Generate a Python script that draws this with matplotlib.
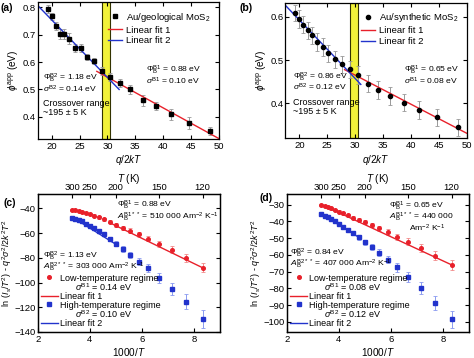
import matplotlib
matplotlib.use('Agg')
import matplotlib.pyplot as plt
from matplotlib.lines import Line2D

plt.rcParams['font.family'] = ['Liberation Sans', 'DejaVu Sans']
plt.rcParams['mathtext.fontset'] = 'custom'
plt.rcParams['mathtext.rm'] = 'Liberation Sans'
plt.rcParams['mathtext.it'] = 'Liberation Sans:italic'
plt.rcParams['mathtext.bf'] = 'Liberation Sans:bold'
plt.rcParams['font.size'] = 6.8
plt.rcParams['xtick.direction'] = 'in'
plt.rcParams['ytick.direction'] = 'in'
plt.rcParams['xtick.major.size'] = 3
plt.rcParams['ytick.major.size'] = 3
plt.rcParams['xtick.major.pad'] = 2
plt.rcParams['ytick.major.pad'] = 1.5
plt.rcParams['axes.linewidth'] = 0.9

FS = 6.8     # ticks, legends
FA = 6.1     # annotations

# --- data ---
# (a), (b): q/2kT
q2kT = [19.3, 20.0, 20.7, 21.5, 22.3, 23.2, 24.2, 25.2, 26.4, 27.6,
        29.0, 30.5, 32.2, 34.1, 36.3, 38.7, 41.4, 44.6, 48.4]
phi_geo = [0.792, 0.766, 0.730, 0.701, 0.701, 0.685, 0.651, 0.651, 0.618, 0.604,
           0.567, 0.545, 0.524, 0.500, 0.461, 0.439, 0.410, 0.378, 0.349]
err_geo = [0.015, 0.012, 0.015, 0.018, 0.018, 0.020, 0.015, 0.015, 0.012, 0.012,
           0.015, 0.015, 0.015, 0.018, 0.020, 0.015, 0.020, 0.022, 0.015]
phi_syn = [0.608, 0.595, 0.582, 0.569, 0.557, 0.542, 0.530, 0.516, 0.502, 0.490,
           0.479, 0.466, 0.446, 0.431, 0.417, 0.402, 0.385, 0.368, 0.345]
err_syn = [0.018, 0.020, 0.020, 0.020, 0.020, 0.020, 0.020, 0.020, 0.020, 0.020,
           0.020, 0.020, 0.020, 0.020, 0.020, 0.020, 0.020, 0.020, 0.020]

# fit line end points
geo_fit1_x, geo_fit1_y = [28.1, 50.0], [0.566, 0.321]
geo_fit2_x, geo_fit2_y = [17.5, 32.1], [0.806, 0.500]
syn_fit1_x, syn_fit1_y = [28.1, 50.0], [0.478, 0.331]
syn_fit2_x, syn_fit2_y = [17.6, 31.0], [0.625, 0.444]
crossover = [29.0, 30.5]

# (c), (d): 1000/T
inv_T = [3.33, 3.45, 3.57, 3.70, 3.85, 4.00, 4.17, 4.35, 4.55, 4.76,
         5.00, 5.26, 5.56, 5.88, 6.25, 6.67, 7.14, 7.69, 8.33]
c_low = [-41.0, -41.4, -41.9, -42.6, -43.4, -44.6, -45.8, -47.2, -48.8, -50.6,
         -53.5, -55.5, -58.0, -61.0, -64.5, -68.5, -73.5, -80.0, -88.0]
c_low_err = [0.8, 0.8, 0.8, 0.9, 0.9, 1.0, 1.0, 1.1, 1.2, 1.3,
             1.5, 1.6, 1.8, 2.0, 2.2, 2.5, 2.8, 3.2, 3.6]
c_high = [-47.5, -48.3, -49.3, -50.5, -52.2, -54.0, -56.0, -58.3, -61.0, -64.5,
          -68.5, -73.0, -77.5, -83.0, -88.0, -96.0, -105.0, -115.5, -129.5]
c_high_err = [0.8, 0.8, 0.9, 0.9, 1.0, 1.1, 1.2, 1.3, 1.5, 1.7,
              2.0, 2.3, 2.6, 3.0, 3.4, 4.0, 4.8, 5.8, 7.0]
d_low = [-30.2, -30.8, -31.5, -32.3, -33.3, -34.3, -35.3, -36.5, -37.8, -39.0,
         -40.5, -42.3, -44.2, -46.5, -49.2, -52.2, -56.0, -60.5, -65.8]
d_low_err = [0.6, 0.6, 0.6, 0.7, 0.7, 0.8, 0.8, 0.9, 1.0, 1.1,
             1.2, 1.3, 1.5, 1.7, 1.9, 2.1, 2.4, 2.7, 3.0]
d_high = [-35.8, -36.6, -37.5, -38.6, -40.0, -41.5, -43.2, -45.0, -47.2, -49.6,
          -52.5, -55.5, -58.8, -62.8, -67.5, -73.5, -80.0, -88.5, -98.5]
d_high_err = [0.6, 0.6, 0.7, 0.7, 0.8, 0.9, 1.0, 1.1, 1.2, 1.4,
              1.6, 1.8, 2.0, 2.3, 2.6, 3.0, 3.5, 4.2, 5.0]

c_fit1_x, c_fit1_y = [4.76, 8.33], [-51.5, -88.0]
c_fit2_x, c_fit2_y = [3.33, 5.00], [-47.0, -69.0]
d_fit1_x, d_fit1_y = [3.33, 8.33], [-30.0, -66.0]
d_fit2_x, d_fit2_y = [3.33, 4.76], [-35.5, -49.5]

T_ticks = [300, 250, 200, 150, 120]

RED = '#e8202a'
BLUE = '#2233cc'

fig = plt.figure(figsize=(4.74, 3.58), dpi=100)
ax_a = fig.add_axes([0.0795, 0.612, 0.3825, 0.382])
ax_b = fig.add_axes([0.602, 0.614, 0.3833, 0.378])
ax_c = fig.add_axes([0.0795, 0.073, 0.3846, 0.386])
ax_d = fig.add_axes([0.605, 0.073, 0.3846, 0.386])


def phi_panel(ax, y, err, marker, label, fit1, fit2, ylim, yticks):
    ax.axvspan(crossover[0], crossover[1], facecolor='#f2f23a',
               edgecolor='#333300', linewidth=0.8, zorder=0)
    ax.errorbar(q2kT, y, yerr=err, fmt='none', ecolor='#999999',
                elinewidth=0.7, capsize=1.5, capthick=0.6, zorder=1)
    ax.plot(q2kT, y, marker, color='black', markersize=3.0, linestyle='none',
            label=label, zorder=3)
    ax.plot(fit1[0], fit1[1], color=RED, lw=1.0, label='Linear fit 1', zorder=2)
    ax.plot(fit2[0], fit2[1], color=BLUE, lw=1.0, label='Linear fit 2', zorder=2)
    ax.set_xlim(17.5, 50)
    ax.set_ylim(*ylim)
    ax.set_xticks([20, 25, 30, 35, 40, 45, 50])
    ax.set_yticks(yticks)
    ax.set_yticklabels(['%.1f' % v for v in yticks])
    ax.set_xlabel('$q/2kT$', fontsize=7.2, labelpad=2)
    ax.set_ylabel(r'$\phi^{\rm app}$ (eV)', fontsize=7.2, labelpad=1)
    ax.legend(loc='upper right', frameon=False, fontsize=FS, handlelength=1.5,
              handletextpad=0.4, labelspacing=0.2, borderaxespad=0.5)
    ax.tick_params(top=True, right=True, labelsize=FS)


phi_panel(ax_a, phi_geo, err_geo, 's', 'Au/geological MoS$_2$',
          (geo_fit1_x, geo_fit1_y), (geo_fit2_x, geo_fit2_y),
          (0.32, 0.818), [0.4, 0.5, 0.6, 0.7, 0.8])
phi_panel(ax_b, phi_syn, err_syn, 'o', 'Au/synthetic MoS$_2$',
          (syn_fit1_x, syn_fit1_y), (syn_fit2_x, syn_fit2_y),
          (0.32, 0.632), [0.4, 0.5, 0.6])


def lines(ax, x, ys, texts, size=FA):
    for yy, t in zip(ys, texts):
        ax.text(x, yy, t, transform=ax.transAxes, fontsize=size, va='center')


lines(ax_a, 0.032, [0.442, 0.362], [r'$\Phi_{\rm B}^{\rm B2}$ = 1.18 eV', r'$\sigma^{\rm B2}$ = 0.14 eV'])
lines(ax_a, 0.032, [0.262, 0.192], ['Crossover range', '~195 \u00b1 5 K'], size=6.5)
lines(ax_a, 0.60, [0.502, 0.42],
      [r'$\Phi_{\rm B}^{\rm B1}$ = 0.88 eV', r'$\sigma^{\rm B1}$ = 0.10 eV'])
lines(ax_b, 0.042, [0.449, 0.374], [r'$\Phi_{\rm B}^{\rm B2}$ = 0.86 eV', r'$\sigma^{\rm B2}$ = 0.12 eV'])
lines(ax_b, 0.042, [0.264, 0.194], ['Crossover range', '~195 \u00b1 5 K'], size=6.5)
lines(ax_b, 0.652, [0.503, 0.423],
      [r'$\Phi_{\rm B}^{\rm B1}$ = 0.65 eV', r'$\sigma^{\rm B1}$ = 0.08 eV'])


def ln_panel(ax, low, low_err, high, high_err, fit1, fit2, ylim, yticks,
             sig1, sig2):
    ax.errorbar(inv_T, low, yerr=low_err, fmt='none', ecolor='#f28a8a',
                elinewidth=0.7, capsize=1.5, capthick=0.6, zorder=1)
    ax.errorbar(inv_T, high, yerr=high_err, fmt='none', ecolor='#8a9af0',
                elinewidth=0.7, capsize=1.5, capthick=0.6, zorder=1)
    h1, = ax.plot(inv_T, low, 'o', color=RED, markersize=2.6, linestyle='none', zorder=3)
    h2, = ax.plot(fit1[0], fit1[1], color=RED, lw=1.0, zorder=2)
    h3, = ax.plot(inv_T, high, 's', color=BLUE, markersize=2.4, linestyle='none', zorder=3)
    h4, = ax.plot(fit2[0], fit2[1], color=BLUE, lw=1.0, zorder=2)
    blank = Line2D([], [], linestyle='none')
    ax.legend([h1, blank, h2, h3, blank, h4],
              ['Low-temperature regime', '      ' + sig1, 'Linear fit 1',
               'High-temperature regime', '      ' + sig2, 'Linear fit 2'],
              loc='lower left', frameon=False, fontsize=6.5, handlelength=1.8,
              handletextpad=0.25, labelspacing=-0.1, borderpad=0.0,
              borderaxespad=0.0, bbox_to_anchor=(0.02, 0.025))
    ax.set_xlim(2, 9)
    ax.set_ylim(*ylim)
    ax.set_xticks([2, 4, 6, 8])
    ax.set_yticks(yticks)
    ax.set_yticklabels(['\u2212%d' % -v for v in yticks])
    ax.set_xlabel('1000/$T$', fontsize=7.2, labelpad=2)
    ax.set_ylabel(r'ln ($I_{\rm s}$/$T^2$) - $q^2\sigma^2/2k^2T^2$', fontsize=6.5, labelpad=0)
    ax.tick_params(right=True, labelsize=FS)
    top = ax.twiny()
    top.set_xlim(ax.get_xlim())
    top.set_xticks([1000 / t for t in T_ticks])
    top.set_xticklabels([str(t) for t in T_ticks])
    top.tick_params(labelsize=FS, pad=1)
    top.set_xlabel('$T$ (K)', fontsize=7.2, labelpad=1)


ln_panel(ax_c, c_low, c_low_err, c_high, c_high_err,
         (c_fit1_x, c_fit1_y), (c_fit2_x, c_fit2_y), (-140, -28),
         [-140, -120, -100, -80, -60, -40],
         r'$\sigma^{\rm B1}$ = 0.14 eV', r'$\sigma^{\rm B2}$ = 0.10 eV')
ln_panel(ax_d, d_low, d_low_err, d_high, d_high_err,
         (d_fit1_x, d_fit1_y), (d_fit2_x, d_fit2_y), (-106, -23.5),
         [-100, -90, -80, -70, -60, -50, -40, -30],
         r'$\sigma^{\rm B1}$ = 0.08 eV', r'$\sigma^{\rm B2}$ = 0.12 eV')

lines(ax_c, 0.433, [0.915, 0.831],
      [r'$\Phi_{\rm B}^{\rm B1}$ = 0.88 eV',
       r'$A_{\rm B}^{\rm B1**}$ = 510 000 Am$^{-2}$ K$^{-1}$'])
lines(ax_c, 0.031, [0.545, 0.464],
      [r'$\Phi_{\rm B}^{\rm B2}$ = 1.13 eV',
       r'$A_{\rm B}^{\rm B2**}$ = 303 000 Am$^{-2}$ K$^{-1}$'])
lines(ax_d, 0.559, [0.905, 0.828],
      [r'$\Phi_{\rm B}^{\rm B1}$ = 0.65 eV', r'$A_{\rm B}^{\rm B1**}$ = 440 000'])
lines(ax_d, 0.669, [0.752], [r'Am$^{-2}$ K$^{-1}$'])
lines(ax_d, 0.018, [0.567, 0.486],
      [r'$\Phi_{\rm B}^{\rm B2}$ = 0.84 eV',
       r'$A_{\rm B}^{\rm B2**}$ = 407 000 Am$^{-2}$ K$^{-1}$'])

fig.text(0.002, 0.992, '(a)', fontsize=7.5, fontweight='bold', va='top')
fig.text(0.505, 0.992, '(b)', fontsize=7.5, fontweight='bold', va='top')
fig.text(0.008, 0.447, '(c)', fontsize=7.5, fontweight='bold', va='top')
fig.text(0.548, 0.462, '(d)', fontsize=7.5, fontweight='bold', va='top')

fig.savefig('out.png', dpi=100)
